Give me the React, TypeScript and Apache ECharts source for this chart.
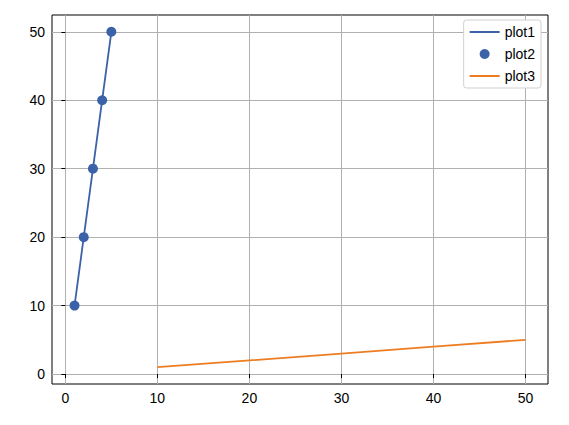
import React, { useEffect, useRef } from 'react';
import * as echarts from 'echarts';

const plot1X = [1, 2, 3, 4, 5];
const plot1Y = [10, 20, 30, 40, 50];
const plot2X = [1, 2, 3, 4, 5];
const plot2Y = [10, 20, 30, 40, 50];
const plot3X = [10, 20, 30, 40, 50];
const plot3Y = [1, 2, 3, 4, 5];
const xTicks = [0, 10, 20, 30, 40, 50];
const yTicks = [0, 10, 20, 30, 40, 50];

const BLUE = '#3b62a9';
const ORANGE = '#ee7d22';
const FONT = '"Liberation Sans", Arial, sans-serif';

const zip = (xs: number[], ys: number[]) => xs.map((x, i) => [x, ys[i]]);

const App: React.FC = () => {
  const chartRef = useRef<HTMLDivElement>(null);

  useEffect(() => {
    if (!chartRef.current) return;
    const chart = echarts.init(chartRef.current, null, { renderer: 'svg' });

    const axisCommon = (ticks: number[]) => ({
      type: 'value' as const,
      min: -1.45,
      max: 52.45,
      axisLine: { show: false },
      axisTick: {
        show: true,
        inside: false,
        length: 4,
        customValues: ticks,
        lineStyle: { color: '#000', width: 1 },
      },
      axisLabel: {
        customValues: ticks,
        color: '#000',
        fontSize: 14,
        fontFamily: FONT,
        margin: 7,
      },
      splitLine: { show: true, lineStyle: { color: '#b0b0b0', width: 1 } },
    });

    chart.setOption({
      animation: false,
      backgroundColor: '#fff',
      grid: {
        left: 52,
        right: 21,
        top: 15,
        bottom: 41,
        show: true,
        borderColor: '#000',
        borderWidth: 1,
      },
      xAxis: axisCommon(xTicks),
      yAxis: axisCommon(yTicks),
      legend: {
        orient: 'vertical',
        right: 28,
        top: 20,
        padding: [5, 6, 5, 5],
        itemGap: 8,
        itemWidth: 30,
        itemHeight: 10,
        backgroundColor: '#fff',
        borderColor: '#d0d0d0',
        borderWidth: 1,
        borderRadius: 3,
        textStyle: { color: '#000', fontSize: 14, fontFamily: FONT },
        data: [
          { name: 'plot1', itemStyle: { opacity: 0 } },
          'plot2',
          { name: 'plot3', itemStyle: { opacity: 0 } },
        ],
      },
      series: [
        {
          name: 'plot1',
          type: 'line',
          data: zip(plot1X, plot1Y),
          symbol: 'none',
          lineStyle: { color: BLUE, width: 1.8 },
          itemStyle: { color: BLUE },
        },
        {
          name: 'plot2',
          type: 'scatter',
          data: zip(plot2X, plot2Y),
          symbol: 'circle',
          symbolSize: 10,
          itemStyle: { color: BLUE, opacity: 1 },
          z: 3,
        },
        {
          name: 'plot3',
          type: 'line',
          data: zip(plot3X, plot3Y),
          symbol: 'none',
          lineStyle: { color: ORANGE, width: 1.8 },
          itemStyle: { color: ORANGE },
        },
      ],
    });

    return () => {
      chart.dispose();
    };
  }, []);

  return (
    <div
      ref={chartRef}
      style={{ position: 'absolute', left: 0, top: 0, width: 569, height: 425 }}
    />
  );
};

export default App;
